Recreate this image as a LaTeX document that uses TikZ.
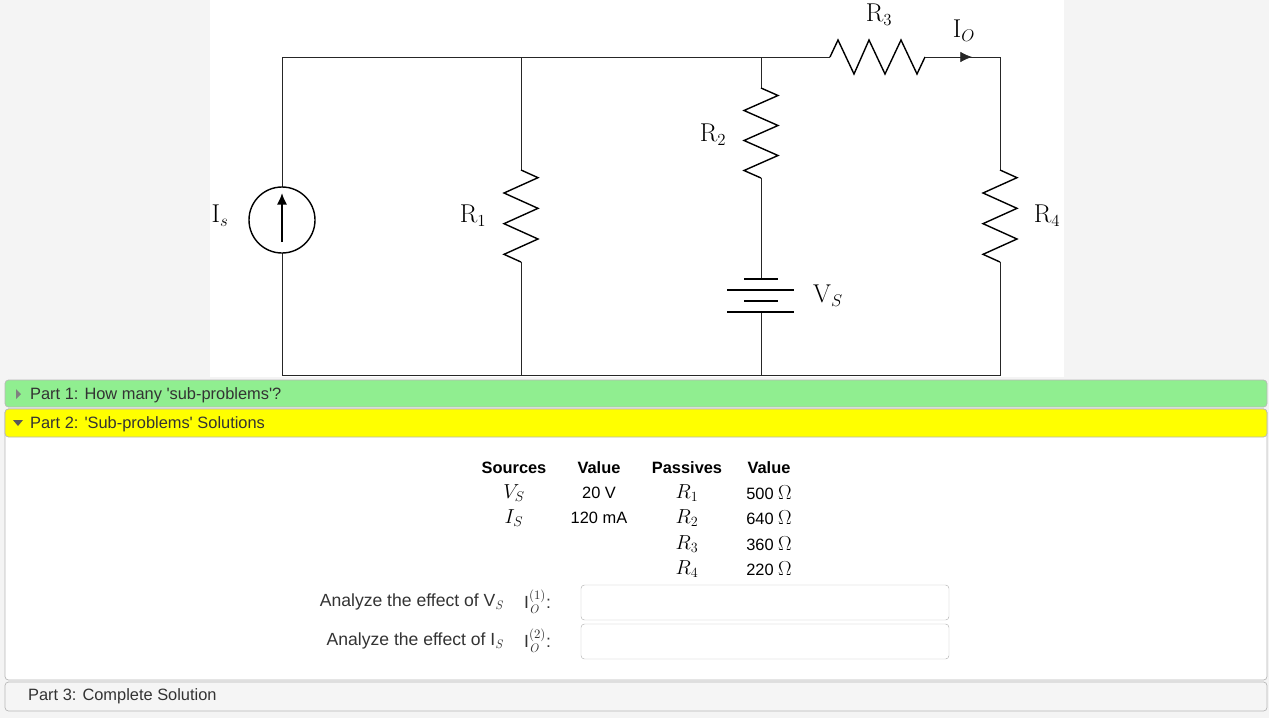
\documentclass[tikz,border=0pt]{standalone}
\usepackage{fontspec}
\setmainfont{Latin Modern Roman}
\newfontfamily\uisans{Liberation Sans}
\usetikzlibrary{arrows.meta}
\definecolor{pagebg}{HTML}{F4F4F4}
\definecolor{okgreen}{HTML}{90EE90}
\definecolor{hiyellow}{HTML}{FFFF00}
\definecolor{barbord}{HTML}{B8B8B8}
\definecolor{uitext}{HTML}{333333}
\newcommand\vzig[3]{% x, top, bottom
  \draw[zig] (#1,#2) \foreach \k in {1,...,6} {-- ({#1+ifthenelse(mod(\k,2)==1,1,-1)*17},{#2+(\k-0.5)*(#3-#2)/6})} -- (#1,#3);}
\tikzset{
  wire/.style={line width=0.65pt, black!85},
  zig/.style={line width=1.2pt, black, line join=miter},
  clab/.style={font=\fontsize{22}{24}\selectfont},
  ui/.style={font=\uisans\fontsize{14}{16}\selectfont, text=uitext},
  bar/.style={draw=barbord, rounded corners=3pt, line width=0.6pt},
}
\begin{document}
\begin{tikzpicture}[x=0.03cm,y=-0.03cm]
\fill[pagebg] (0,0) rectangle (1269,718);
\fill[white] (210,0) rectangle (1064,377);
% circuit
\draw[wire] (282,187) -- (282,57) -- (830,57);
\draw[wire] (282,253) -- (282,375) -- (1000,375) -- (1000,262);
\draw[wire] (521,57) -- (521,170); \draw[wire] (521,262) -- (521,375);
\vzig{521}{170}{262}
\draw[wire] (761,57) -- (761,88); \draw[wire] (761,178) -- (761,279);
\vzig{761}{88}{178}
\draw[wire] (761,312) -- (761,375);
\draw[zig] (744,279) -- (778,279); \draw[zig] (727,290) -- (794,290);
\draw[zig] (744,301) -- (778,301); \draw[zig] (727,312) -- (794,312);
\draw[zig] (830,57) -- (838,40) -- (854,74) -- (869,40) -- (885,74) -- (901,40) -- (917,74) -- (925,57);
\draw[wire] (925,57) -- (1000,57) -- (1000,170);
\draw[wire,-{Latex[length=10pt,width=9pt]}] (925,57) -- (972,57);
\vzig{1000}{170}{262}
\draw[zig] (282,220) circle (33);
\draw[line width=1.8pt,-{Latex[length=10pt,width=9pt]}] (282,242) -- (282,193);
\node[clab] (lis) at (220,216) {I$_s$};
\node[clab] (lr1) at (473,216) {R$_1$};
\node[clab] (lr2) at (713,135) {R$_2$};
\node[clab] (lr3) at (879,15) {R$_3$};
\node[clab] (lio) at (964,31) {I$_O$};
\node[clab] (lr4) at (1047,216) {R$_4$};
\node[clab] (lvs) at (828,296) {V$_S$};
% accordion
\draw[bar, fill=okgreen] (5,380) rectangle (1267,407);
\node[ui, anchor=west] (p1) at (26,395) {Part 1: How many 'sub-problems'?};
\fill[gray] (16,389) -- (21,394) -- (16,399) -- cycle;
\draw[bar, fill=white] (5,409) rectangle (1267,680);
\draw[bar, fill=hiyellow] (5,409) rectangle (1267,437);
\node[ui, anchor=west] (p2) at (26,424) {Part 2: 'Sub-problems' Solutions};
\fill[gray!70!black] (13,420) -- (23,420) -- (18,426) -- cycle;
\draw[bar, fill=pagebg!80!gray!30] (5,682) rectangle (1267,711);
\node[ui, anchor=west] (p3) at (24,696) {Part 3: Complete Solution};
% table
\begin{scope}[every node/.style={ui, text=black}]
\node (h1) at (514,468) {\bfseries Sources};
\node (h2) at (599,468) {\bfseries Value};
\node (h3) at (687,468) {\bfseries Passives};
\node (h4) at (769,468) {\bfseries Value};
\node at (514,493) {\fontsize{17}{19}\selectfont$V_S$};
\node at (514,518) {\fontsize{17}{19}\selectfont$I_S$};
\node at (599,493) {20 V};
\node at (599,518) {120 mA};
\node at (687,493) {\fontsize{17}{19}\selectfont$R_1$};
\node at (687,518) {\fontsize{17}{19}\selectfont$R_2$};
\node at (687,544) {\fontsize{17}{19}\selectfont$R_3$};
\node at (687,569) {\fontsize{17}{19}\selectfont$R_4$};
\node at (769,493) {500 \fontsize{17}{19}\selectfont$\Omega$};
\node at (769,518) {640 \fontsize{17}{19}\selectfont$\Omega$};
\node at (769,544) {360 \fontsize{17}{19}\selectfont$\Omega$};
\node at (769,569) {220 \fontsize{17}{19}\selectfont$\Omega$};
\end{scope}
\node[ui, anchor=east, font=\uisans\fontsize{15}{17}\selectfont] (a1) at (507,602) {Analyze the effect of V$_{\mathit{S}}$};
\node[ui, anchor=east, font=\uisans\fontsize{15}{17}\selectfont] (a2) at (507,641) {Analyze the effect of I$_{\mathit{S}}$};
\node[ui, anchor=west, font=\uisans\fontsize{15}{17}\selectfont] (i1) at (520,602) {I$^{(1)}_{\mathit{O}}$:};
\node[ui, anchor=west, font=\uisans\fontsize{15}{17}\selectfont] (i2) at (520,641) {I$^{(2)}_{\mathit{O}}$:};
\draw[draw=barbord, rounded corners=3pt, fill=white] (581,585) rectangle (949,620);
\draw[draw=barbord, rounded corners=3pt, fill=white] (581,624) rectangle (949,659);
\end{tikzpicture}
\end{document}
